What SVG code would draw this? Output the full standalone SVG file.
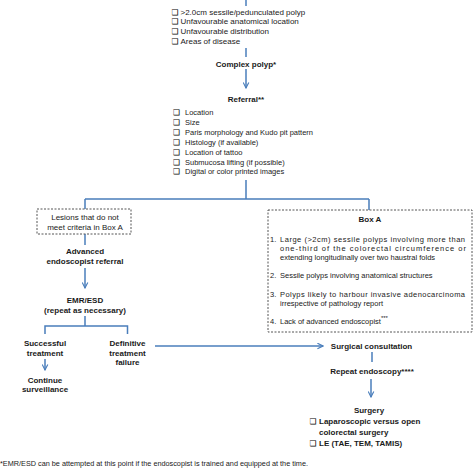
<svg xmlns="http://www.w3.org/2000/svg" width="474" height="474" viewBox="0 0 474 474">
<style>
.c{stroke:#4a7ebb;stroke-width:1.5;fill:none}
.d{stroke:#555;stroke-width:1;stroke-dasharray:2 1.5;fill:none}
text{font-family:"Liberation Sans",Arial,sans-serif;font-size:8px;fill:#1a1a1a}
.b{font-weight:bold}
.m{text-anchor:middle}
.s{font-size:7.5px}
.k{font-family:"DejaVu Sans",sans-serif;font-size:7.8px;fill:#000}
.f{font-size:6.6px}
</style>
<defs>
<marker id="ar" viewBox="0 0 10 10" refX="9" refY="5" markerWidth="7" markerHeight="7" markerUnits="userSpaceOnUse" orient="auto">
<path d="M1,1 L9,5 L1,9" fill="none" stroke="#4a7ebb" stroke-width="1.6"/>
</marker>
</defs>
<rect width="474" height="474" fill="#fff"/>
<g id="connectors">
<path class="c" d="M246,0 V6"/>
<path class="c" d="M246,48 V57"/>
<path class="c" d="M246,69 V88" marker-end="url(#ar)"/>
<path class="c" d="M246,180 V199 M85,199 H369 M85,199 V209 M369,199 V210"/>
<path class="c" d="M85,234 V245"/>
<path class="c" d="M85,268 V288" marker-end="url(#ar)"/>
<path class="c" d="M85,316 V326 M45,334 V326 H127.5 V334"/>
<path class="c" d="M45,359 V370" marker-end="url(#ar)"/>
<path class="c" d="M155,346 H323" marker-end="url(#ar)"/>
<path class="c" d="M372,352 V362"/>
<path class="c" d="M371,379 V397" marker-end="url(#ar)"/>
</g>
<g id="criteria">
<text class="k" x="171.5" y="14.5">❑</text><text x="180.5" y="14.5">&gt;2.0cm sessile/pedunculated polyp</text>
<text class="k" x="171.5" y="24">❑</text><text x="180.5" y="24">Unfavourable anatomical location</text>
<text class="k" x="171.5" y="33.8">❑</text><text x="180.5" y="33.8">Unfavourable distribution</text>
<text class="k" x="171.5" y="43.5">❑</text><text x="180.5" y="43.5">Areas of disease</text>
</g>
<g id="complex-polyp"><text class="b m" x="246" y="66.5">Complex polyp*</text></g>
<g id="referral">
<text class="b m" x="246" y="101.5">Referral**</text>
<text class="k" x="173" y="115.3">❑</text><text class="s" x="185" y="115.3">Location</text>
<text class="k" x="173" y="124.5">❑</text><text class="s" x="185" y="124.5">Size</text>
<text class="k" x="173" y="134.9">❑</text><text class="s" x="185" y="134.9">Paris morphology and Kudo pit pattern</text>
<text class="k" x="173" y="145.3">❑</text><text class="s" x="185" y="145.3">Histology (if available)</text>
<text class="k" x="173" y="155.3">❑</text><text class="s" x="185" y="155.3">Location of tattoo</text>
<text class="k" x="173" y="164.9">❑</text><text class="s" x="185" y="164.9">Submucosa lifting (if possible)</text>
<text class="k" x="173" y="174.3">❑</text><text class="s" x="185" y="174.3">Digital or color printed images</text>
</g>
<g id="lesions-box">
<rect class="d" x="37" y="209" width="94" height="25"/>
<text class="m" x="85" y="219.8">Lesions that do not</text>
<text class="m" x="85" y="230.2">meet criteria in Box A</text>
</g>
<g id="box-a">
<rect class="d" x="268" y="210" width="204" height="122"/>
<text class="b m" x="370" y="222">Box A</text>
<text class="s" x="270" y="241.6">1.</text>
<text class="s" x="280" y="241.6" textLength="185" lengthAdjust="spacing">Large (&gt;2cm) sessile polyps involving more than</text>
<text class="s" x="280" y="250.8" textLength="186" lengthAdjust="spacing">one-third of the colorectal circumference or</text>
<text class="s" x="280" y="260">extending longitudinally over two haustral folds</text>
<text class="s" x="270" y="278.4">2.</text>
<text class="s" x="280" y="278.4">Sessile polyps involving anatomical structures</text>
<text class="s" x="270" y="296.8">3.</text>
<text class="s" x="280" y="296.8" textLength="185" lengthAdjust="spacing">Polyps likely to harbour invasive adenocarcinoma</text>
<text class="s" x="280" y="306">irrespective of pathology report</text>
<text class="s" x="270" y="324.4">4.</text>
<text class="s" x="280" y="324.4">Lack of advanced endoscopist<tspan dy="-4" font-size="6">***</tspan></text>
</g>
<g id="advanced-referral">
<text class="b m" x="85" y="253.8">Advanced</text>
<text class="b m" x="85" y="263.8">endoscopist referral</text>
</g>
<g id="emr-esd">
<text class="b m" x="85" y="302.6" font-size="7.4">EMR/ESD</text>
<text class="b m" x="85" y="313" font-size="7.4">(repeat as necessary)</text>
</g>
<g id="successful">
<text class="b m" x="45" y="345.8">Successful</text>
<text class="b m" x="45" y="355.5">treatment</text>
</g>
<g id="failure">
<text class="b m" x="127.5" y="345.8">Definitive</text>
<text class="b m" x="127.5" y="355.5">treatment</text>
<text class="b m" x="127.5" y="365">failure</text>
</g>
<g id="surveillance">
<text class="b m" x="45" y="382.8">Continue</text>
<text class="b m" x="45" y="392.3">surveillance</text>
</g>
<g id="surgical-consultation"><text class="b m" x="371.5" y="348.8">Surgical consultation</text></g>
<g id="repeat-endoscopy"><text class="b m" x="372" y="374.3">Repeat endoscopy****</text></g>
<g id="surgery">
<text class="b m" x="369" y="413.3" font-size="7.6">Surgery</text>
<text class="k" x="309.5" y="424.3">❑</text><text class="b" x="319" y="424.3" font-size="7.6">Laparoscopic versus open</text>
<text class="b" x="319" y="435.3" font-size="7.6">colorectal surgery</text>
<text class="k" x="309.5" y="446">❑</text><text class="b" x="319" y="446" font-size="7.6">LE (TAE, TEM, TAMIS)</text>
</g>
<g id="footnote"><text class="f" x="0" y="465.5" textLength="308" lengthAdjust="spacingAndGlyphs">*EMR/ESD can be attempted at this point if the endoscopist is trained and equipped at the time.</text></g>
</svg>
